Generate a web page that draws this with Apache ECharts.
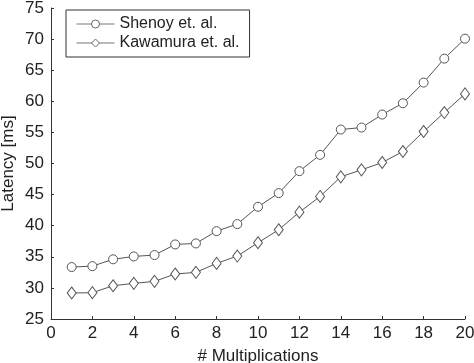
<!DOCTYPE html>
<html>
<head>
<meta charset="utf-8">
<script src="https://cdn.jsdelivr.net/npm/echarts@6/dist/echarts.min.js"></script>
<style>html,body{margin:0;padding:0;background:#fff}#c{width:474px;height:363px}</style>
</head>
<body>
<div id="c"></div>
<script>
var multiplications = [1,2,3,4,5,6,7,8,9,10,11,12,13,14,15,16,17,18,19,20];
var shenoy = [33.35,33.5,34.6,35.06,35.28,36.99,37.15,39.13,40.26,43.04,45.24,48.77,51.39,55.46,55.78,57.87,59.69,63.01,66.86,70.07];
var kawamura = [29.18,29.23,30.35,30.73,31.05,32.23,32.5,33.94,35.12,37.26,39.35,42.18,44.7,47.86,48.98,50.16,51.93,55.14,58.19,61.19];
var seriesNames = ['Shenoy et. al.', 'Kawamura et. al.'];

function pairs(ys){ return multiplications.map(function(x,i){ return [x, ys[i]]; }); }

var font = 'Liberation Sans, Arial, Helvetica, sans-serif';
var chart = echarts.init(document.getElementById('c'), null, {renderer:'canvas'});
chart.setOption({
  animation: false,
  backgroundColor: '#fff',
  grid: {left: 51, right: 9, top: 8, bottom: 44, containLabel: false, outerBoundsMode: 'none'},
  legend: {
    orient: 'vertical', left: 66, top: 10,
    padding: [6, 10, 6, 10],
    itemGap: 3, itemWidth: 38, itemHeight: 10,
    borderColor: '#333', borderWidth: 1,
    lineStyle: {color: '#777', width: 1},
    itemStyle: {color: '#fff', borderColor: '#666', borderWidth: 1},
    textStyle: {fontSize: 16, fontFamily: font, color: '#222'},
    data: seriesNames
  },
  xAxis: {
    type: 'value', min: 0, max: 20, interval: 2,
    name: '# Multiplications', nameLocation: 'middle', nameGap: 29,
    nameMoveOverlap: false,
    nameTextStyle: {fontSize: 17, fontFamily: font, color: '#222'},
    axisLine: {lineStyle: {color: '#333', width: 1}},
    axisTick: {inside: true, length: 3, lineStyle: {color: '#333'}},
    axisLabel: {fontSize: 17, fontFamily: font, color: '#222', margin: 6},
    splitLine: {show: false}
  },
  yAxis: {
    type: 'value', min: 25, max: 75, interval: 5,
    name: 'Latency [ms]', nameLocation: 'middle', nameGap: 34,
    nameMoveOverlap: false,
    nameTextStyle: {fontSize: 17, fontFamily: font, color: '#222'},
    axisLine: {show: true, lineStyle: {color: '#333', width: 1}},
    axisTick: {show: true, inside: true, length: 3, lineStyle: {color: '#333'}},
    axisLabel: {fontSize: 17, fontFamily: font, color: '#222', margin: 7},
    splitLine: {show: false}
  },
  series: [
    {
      name: seriesNames[0], type: 'line', data: pairs(shenoy),
      symbol: 'circle', symbolSize: 9,
      lineStyle: {color: '#555', width: 1},
      itemStyle: {color: '#fff', borderColor: '#555', borderWidth: 1},
      color: '#555'
    },
    {
      name: seriesNames[1], type: 'line', data: pairs(kawamura),
      symbol: 'diamond', symbolSize: [9, 12],
      lineStyle: {color: '#555', width: 1},
      itemStyle: {color: '#fff', borderColor: '#555', borderWidth: 1},
      color: '#555'
    }
  ]
});
</script>
</body>
</html>
